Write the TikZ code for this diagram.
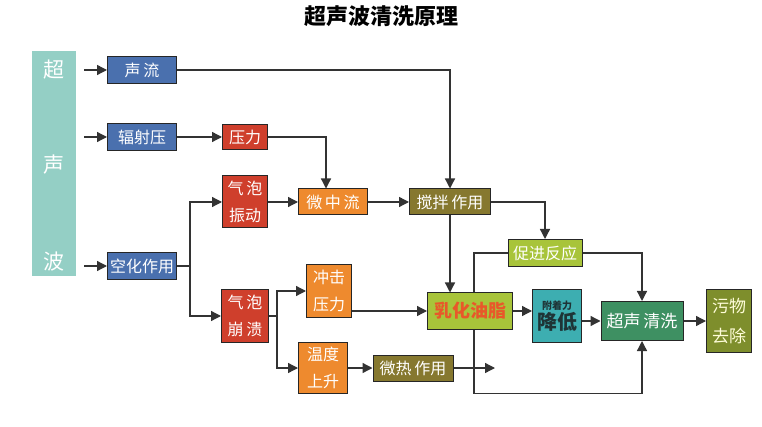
\documentclass[tikz,border=0pt]{standalone}
\usepackage{fontspec}
\newfontfamily\cjk{Noto Sans CJK SC}
\usepackage{tikz}
\usetikzlibrary{arrows.meta,positioning,calc}
\usepackage{xcolor}
\definecolor{barTeal}{HTML}{94CFC5}
\definecolor{boxBlue}{HTML}{4A70AE}
\definecolor{boxRed}{HTML}{CF3F2C}
\definecolor{boxOrange}{HTML}{EE8A2E}
\definecolor{boxOlive}{HTML}{86782F}
\definecolor{boxLime}{HTML}{A8C43A}
\definecolor{boxTeal}{HTML}{3DAEB1}
\definecolor{boxGreen}{HTML}{3E9062}
\definecolor{boxMoss}{HTML}{7E8E2C}
\definecolor{oilText}{HTML}{E8582A}
\definecolor{darkText}{HTML}{1E3436}

\begin{document}
\begin{tikzpicture}[x=1pt,y=-1pt,
  box/.style={draw=black!85, line width=1pt, inner sep=0pt, align=center, text=white,
    font=\cjk\fontsize{16}{27}\selectfont},
  flow/.style={draw=black!80, line width=1.3pt, -{Triangle[length=10pt,width=10pt]}},
  link/.style={draw=black!80, line width=1.3pt}]
\useasboundingbox (0,0) rectangle (762,427);
\node[font=\cjk\bfseries\fontsize{22}{22}\selectfont] (title) at (381,16) {超声波清洗原理};

% source bar
\node[fill=barTeal, minimum width=44, minimum height=225, inner sep=0pt] (bar) at (54,163.5) {};
\foreach \ch/\y in {超/70,声/165,波/262}
  \node[text=white, font=\cjk\fontsize{21}{21}\selectfont] (bar-\y) at (54,\y) {\ch};

% boxes
\node[box, fill=boxBlue, minimum width=69, minimum height=27] (sl) at (142,70) {声\,流};
\node[box, fill=boxBlue, minimum width=69, minimum height=27] (fsy) at (142,137) {辐射压};
\node[box, fill=boxBlue, minimum width=69, minimum height=27] (kh) at (142,266) {空化作用};
\node[box, fill=boxRed, minimum width=45, minimum height=25] (yl) at (245,137) {压力};
\node[box, fill=boxRed, minimum width=45, minimum height=52] (qpzd) at (245,202) {气\,泡\\振动};
\node[box, fill=boxRed, minimum width=47, minimum height=52] (qpbk) at (245,316) {气\,泡\\崩\,溃};
\node[box, fill=boxOrange, minimum width=69, minimum height=26] (wzl) at (333,202) {微\,中\,流};
\node[box, fill=boxOrange, minimum width=45, minimum height=53] (cj) at (329,291) {冲击\\压力};
\node[box, fill=boxOrange, minimum width=49, minimum height=51] (wd) at (323,368) {温度\\上升};
\node[box, fill=boxOlive, minimum width=81, minimum height=26] (jb) at (450,202) {搅拌\,作用};
\node[box, fill=boxOlive, minimum width=80, minimum height=26] (wr) at (413,368) {微热\,作用};
\node[box, fill=boxLime, minimum width=85, minimum height=36, text=oilText,
  font=\cjk\bfseries\fontsize{18}{18}\selectfont] (rh) at (470,311) {乳化油脂};
\node[box, fill=boxLime, minimum width=74, minimum height=27] (cjfy) at (545,253) {促进反应};
\node[box, fill=boxTeal, minimum width=49, minimum height=52, text=darkText,
  font=\cjk\bfseries\fontsize{20}{20}\selectfont] (fz) at (557,316)
  {{\fontsize{10}{12}\selectfont 附着力}\\降低};
\node[box, fill=boxGreen, minimum width=82, minimum height=39, font=\cjk\fontsize{17}{17}\selectfont] (cs) at (642,321) {超声\,清洗};
\node[box, fill=boxMoss, minimum width=45, minimum height=62, text=yellow!15,
  font=\cjk\fontsize{17}{30}\selectfont] (wu) at (729,321) {污物\\去除};

% free ends
\coordinate (in1) at (84,70);
\coordinate (in2) at (84,137);
\coordinate (in3) at (84,266);
\coordinate (split1) at (190,266);
\coordinate (split2) at (277,316);
\coordinate (heatEnd) at (495,368);

% connectors
\draw[flow] (in1) -- (sl.west);
\draw[flow] (in2) -- (fsy.west);
\draw[flow] (in3) -- (kh.west);
\draw[flow] (sl.east) -| (jb.north);
\draw[flow] (fsy.east) -- (yl.west);
\draw[flow] (yl.east) -| ($(wzl.north)+(-7,0)$);
\draw[flow] (qpzd.east) -- (wzl.west);
\draw[flow] (wzl.east) -- (jb.west);
\draw[link] (kh.east) -- (split1);
\draw[flow] (split1) |- (qpzd.west);
\draw[flow] (split1) |- (qpbk.west);
\draw[link] (qpbk.east) -- (split2);
\draw[flow] (split2) |- (cj.west);
\draw[flow] (split2) |- (wd.west);
\draw[flow] (wd.east) -- (wr.west);
\draw[flow] (wr.east) -- (heatEnd);
\draw[flow] (cj.east |- rh.west) -- (rh.west);
\draw[flow] (jb.south) -- (jb.south |- rh.north);
\draw[flow] (jb.east) -| (cjfy.north);
\draw[link] ($(rh.north)+(4,0)$) |- (cjfy.west);
\draw[flow] (cjfy.east) -| (cs.north);
\draw[flow] (rh.east) -- (rh.east -| fz.west);
\draw[flow] (fz.east |- cs.west) -- (cs.west);
\draw[flow] (cs.east) -- (wu.west);
\draw[flow] ($(rh.south)+(4,0)$) -- ++(0,64) -| (cs.south);
\end{tikzpicture}
\end{document}
